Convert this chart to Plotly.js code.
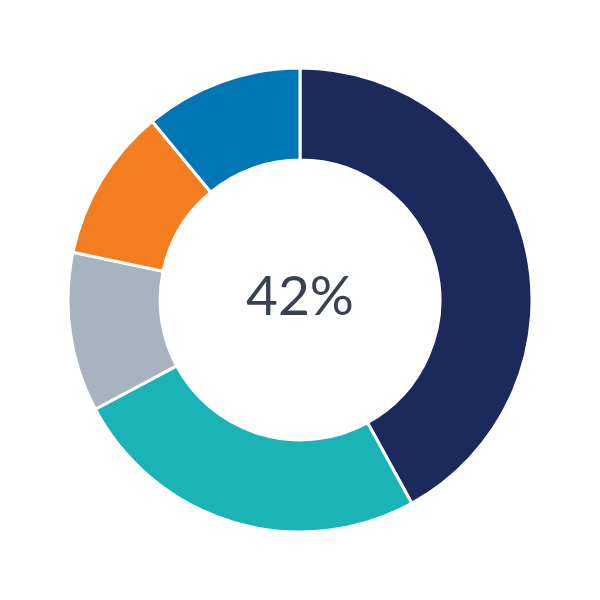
<!DOCTYPE html>
<html>
<head>
<meta charset="utf-8">
<script src="https://cdn.plot.ly/plotly-3.0.1.min.js"></script>
<style>
  html, body { margin: 0; padding: 0; background: #fff; }
  #chart { width: 600px; height: 600px; }
</style>
</head>
<body>
<div id="chart"></div>
<script>
const labels = ['Segment A', 'Segment B', 'Segment C', 'Segment D', 'Segment E'];
const values = [42, 25.2, 11.1, 10.7, 11];
const colors = ['#1b2a5b', '#1bb4b6', '#a8b3c1', '#f47d20', '#0076b5'];
const centerLabel = '42%';

var donut = {
  type: 'pie',
  labels: labels,
  values: values,
  hole: 0.603,
  sort: false,
  direction: 'clockwise',
  rotation: 0,
  textinfo: 'none',
  hoverinfo: 'label+percent',
  marker: { colors: colors, line: { color: '#ffffff', width: 3 } }
};

var layout = {
  width: 600,
  height: 600,
  margin: { l: 68, r: 68, t: 68, b: 68 },
  showlegend: false,
  paper_bgcolor: '#ffffff',
  annotations: [{
    text: centerLabel,
    x: 0.5, y: 0.514,
    xref: 'paper', yref: 'paper',
    showarrow: false,
    font: { family: 'Lato, sans-serif', size: 55, color: '#3a4150' }
  }]
};

Plotly.newPlot('chart', [donut], layout, { displayModeBar: false, staticPlot: true });
</script>
</body>
</html>
